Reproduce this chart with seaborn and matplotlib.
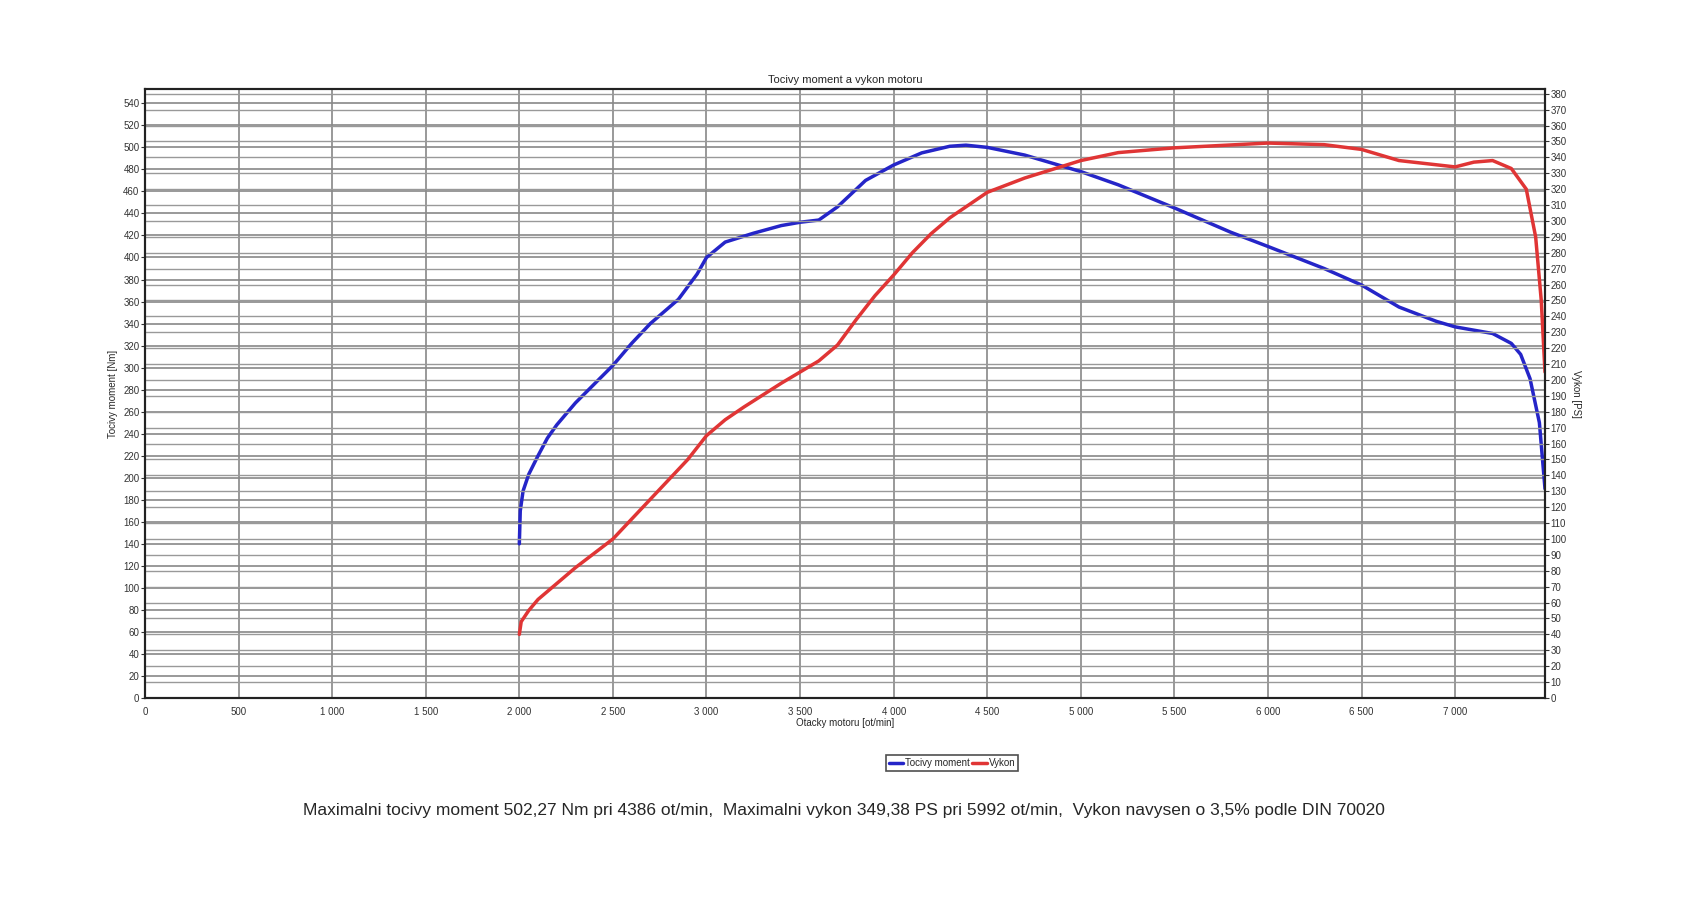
import numpy as np
import pandas as pd
import matplotlib
matplotlib.use('Agg')
import matplotlib.pyplot as plt
import seaborn as sns
from matplotlib.ticker import FuncFormatter

sns.set_style('white')
plt.rcParams['font.family'] = ['Liberation Sans', 'DejaVu Sans']

# torque curve (Nm)
rpm_t = [2000, 2005, 2020, 2050, 2100, 2150, 2200, 2300, 2400, 2500, 2600, 2700, 2850, 2950, 3000,
         3100, 3250, 3400, 3500, 3600, 3700, 3800, 3850, 4000, 4150, 4300, 4386, 4500, 4700,
         5000, 5200, 5500, 5800, 6000, 6300, 6500, 6700, 6900, 7000, 7200, 7300, 7350, 7400,
         7450, 7480]
torque = [140, 170, 188, 203, 220, 236, 248, 268, 285, 302, 322, 340, 362, 385, 400,
          414, 422, 429, 432, 434, 446, 462, 470, 484, 495, 501, 502, 500, 493,
          478, 466, 445, 423, 410, 390, 375, 355, 342, 337, 331, 322, 312, 290,
          250, 190]
# power curve (PS)
rpm_p = [2000, 2010, 2050, 2100, 2200, 2300, 2500, 2700, 2900, 3000, 3100, 3200, 3400, 3600,
         3700, 3800, 3900, 4000, 4100, 4200, 4300, 4400, 4500, 4700, 5000, 5200, 5500, 6000,
         6300, 6500, 6700, 7000, 7100, 7200, 7300, 7380, 7430, 7460, 7480]
power = [40, 48, 55, 62, 72, 82, 100, 125, 150, 165, 175, 183, 198, 212,
         222, 238, 253, 266, 280, 292, 302, 310, 318, 327, 338, 343, 346, 349,
         348, 345, 338, 334, 337, 338, 333, 320, 290, 250, 205]

df_t = pd.DataFrame({'rpm': rpm_t, 'val': torque})
df_p = pd.DataFrame({'rpm': rpm_p, 'val': power})

fig = plt.figure(figsize=(17, 9.15), dpi=100)
ax = fig.add_axes([145/1700, 1-698/915, 1400/1700, 609/915])
ax2 = ax.twinx()

for a, step, top in [(ax, 20, 553), (ax2, 10, 383)]:
    a.set_ylim(0, top)
    a.set_yticks(np.arange(0, top, step))
    a.tick_params(axis='y', labelsize=7, length=3, colors='#333333', pad=1)
    a.grid(False)
for y in np.arange(0, 553, 20):
    ax.axhline(y, color='#888888', lw=1.2, zorder=0)
for y in np.arange(0, 383, 10):
    ax2.axhline(y, color='#999999', lw=1.0, zorder=0)

ax.set_xlim(0, 7480)
ax.set_xticks(np.arange(0, 7001, 500))
ax.xaxis.set_major_formatter(FuncFormatter(lambda v, p: f'{int(v):,}'.replace(',', ' ')))
ax.tick_params(axis='x', labelsize=7, length=3, colors='#333333')
for x in np.arange(500, 7001, 500):
    ax.axvline(x, color='#888888', lw=1.2, zorder=0)

sns.lineplot(data=df_t, x='rpm', y='val', ax=ax, color='#2525c8', lw=2.5, label='Tocivy moment', legend=False)
sns.lineplot(data=df_p, x='rpm', y='val', ax=ax2, color='#e03535', lw=2.5, label='Vykon', legend=False)

for a in (ax, ax2):
    for s in a.spines.values():
        s.set_color('#222222')
        s.set_linewidth(1.5)

ax.set_xlabel('Otacky motoru [ot/min]', fontsize=7, labelpad=1)
ax.set_ylabel('Tocivy moment [Nm]', fontsize=7)
ax2.set_ylabel('Vykon [PS]', fontsize=7, rotation=270, labelpad=10)
ax.set_title('Tocivy moment a vykon motoru', fontsize=8, pad=4)

h1, l1 = ax.get_legend_handles_labels()
h2, l2 = ax2.get_legend_handles_labels()
leg = fig.legend(h1 + h2, l1 + l2, loc='center left', bbox_to_anchor=(881/1700, 1-763/915), ncol=2,
                 fontsize=7, frameon=True, fancybox=False, edgecolor='#222222', handlelength=1.5,
                 columnspacing=0.2, handletextpad=0.2, borderpad=0.3)
leg._legend_box.align = 'left'
leg.get_frame().set_linewidth(1.2)
# stretch frame to reference width
fig.canvas.draw()
bb = leg.get_window_extent()
leg.get_frame().set_width(193)

fig.text(844/1700, 1-810/915,
         'Maximalni tocivy moment 502,27 Nm pri 4386 ot/min,  Maximalni vykon 349,38 PS pri 5992 ot/min,  Vykon navysen o 3,5% podle DIN 70020',
         ha='center', va='center', fontsize=12.5, transform=fig.transFigure)

fig.savefig('out.png', dpi=100, facecolor='white')
